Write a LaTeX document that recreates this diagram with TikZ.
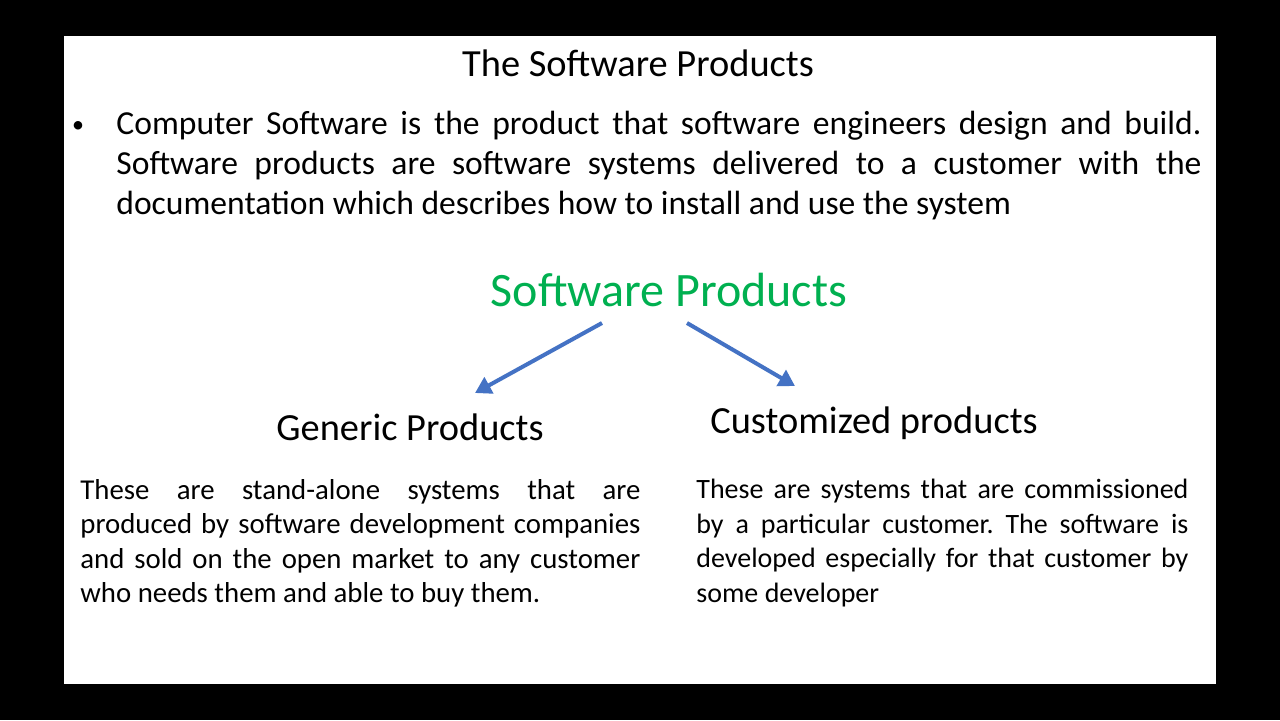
\documentclass[tikz,border=0pt]{standalone}
\usepackage{fontspec}
\setmainfont{Carlito}
\usetikzlibrary{arrows.meta}
\hyphenpenalty=10000
\exhyphenpenalty=10000
\frenchspacing
\definecolor{arrowblue}{RGB}{68,114,196}
\definecolor{titlegreen}{RGB}{0,176,80}
\tikzset{
  para/.style={anchor=north west, inner sep=0pt, align=justify, font=\fontsize{14}{17.25}\selectfont},
  head/.style={inner sep=0pt, font=\fontsize{19.2}{23}\selectfont},
  branch/.style={draw=arrowblue, line width=2pt, -{Triangle[length=8pt,width=9pt]}}
}
\begin{document}
\begin{tikzpicture}[x=0.5pt,y=-0.5pt]
\fill[black] (0,0) rectangle (1280,720);
\fill[white] (64,36) rectangle (1216,684);
\node[head] (title) at (638,63) {The Software Products};
\node[inner sep=0pt, font=\fontsize{12}{14}\selectfont] (bullet) at (78,127) {•};
\node[para, text width=542.5pt, font=\fontsize{16.8}{20}\selectfont] (intro) at (116,111) {Computer Software is the product that software engineers design and build.\linebreak Software products are software systems delivered to a customer with the\linebreak documentation which describes how to install and use the system};
\node[inner sep=0pt, text=titlegreen, font=\fontsize{24}{28}\selectfont] (sp) at (669,290) {Software Products};
\node[head] (gen) at (410,427) {Generic Products};
\node[head] (cus) at (874,423) {Customized products};
\coordinate (a1) at (602,323);
\coordinate (a2) at (475,393);
\coordinate (b1) at (687,323);
\coordinate (b2) at (795,386);
\draw[branch] (a1) -- (a2);
\draw[branch] (b1) -- (b2);
\node[para, text width=280pt, font=\fontsize{14.4}{17.25}\selectfont] (gtext) at (80,479) {These are stand-alone systems that are\linebreak produced by software development companies\linebreak and sold on the open market to any customer\linebreak who needs them and able to buy them.};
\node[para, text width=246pt] (ctext) at (696,479) {These are systems that are commissioned\linebreak by a particular customer. The software is\linebreak developed especially for that customer by\linebreak some developer};
\end{tikzpicture}
\end{document}
